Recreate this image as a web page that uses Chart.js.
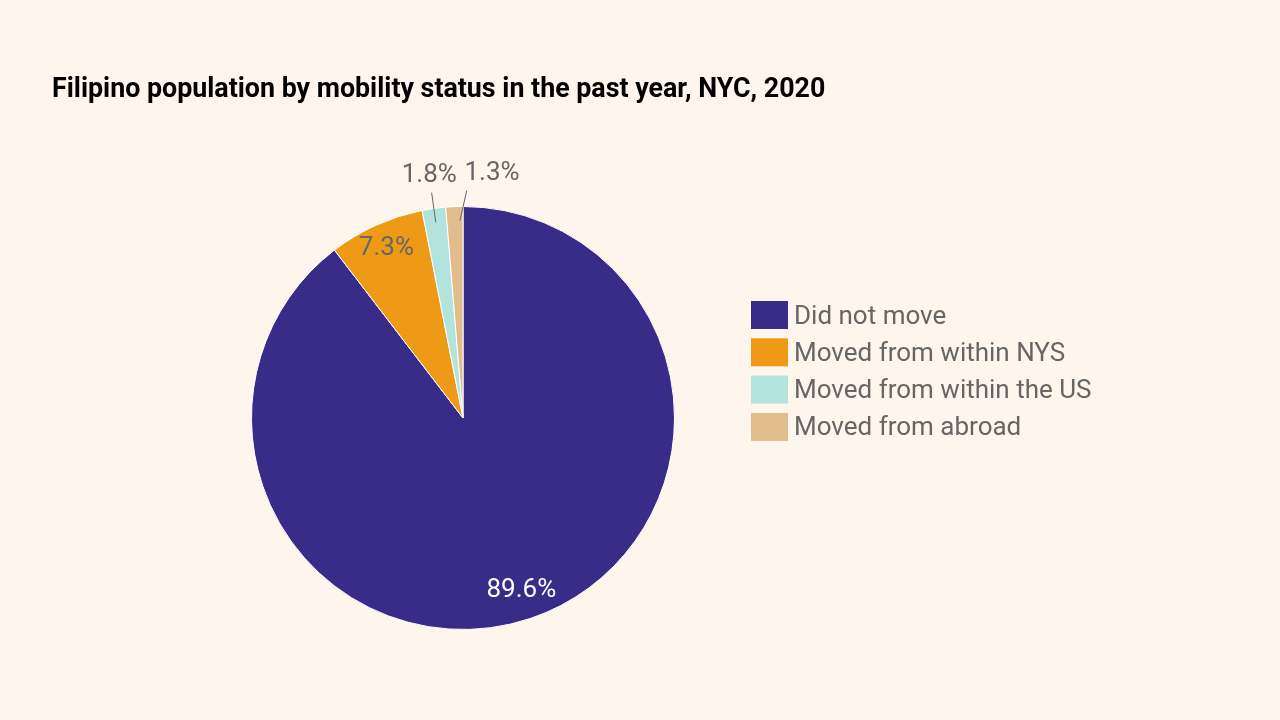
<!DOCTYPE html>
<html>
<head>
<meta charset="utf-8">
<script src="https://cdn.jsdelivr.net/npm/chart.js@4.4.1/dist/chart.umd.min.js"></script>
<style>
  html, body { margin: 0; padding: 0; background: #fef5ec; }
  #wrap { width: 1280px; height: 720px; position: relative; }
</style>
</head>
<body>
<div id="wrap"><canvas id="myChart" width="1280" height="720"></canvas></div>
<script>
// chart data
var categories = ['Did not move', 'Moved from within NYS', 'Moved from within the US', 'Moved from abroad'];
var shares = [89.6, 7.3, 1.8, 1.3];
var sliceColors = ['#382c88', '#ef9a16', '#b2e4de', '#e2bd8c'];
var chartTitle = 'Filipino population by mobility status in the past year, NYC, 2020';

// label styling: inside labels sit at a fraction of the radius, outside ones get a leader line
var labelStyle = [
  { inside: true, r: 0.86, color: '#ffffff' },
  { inside: true, r: 0.88, color: '#666666' },
  { inside: false, lineDx: [0, 0], textDx: 0, color: '#666666' },
  { inside: false, lineDx: [5, 13], textDx: 39, color: '#666666' }
];

// draws title, slice labels and legend
var decorPlugin = {
  id: 'decor',
  afterDraw: function (chart) {
    var ctx = chart.ctx;
    ctx.save();

    // title
    ctx.fillStyle = '#000000';
    ctx.font = 'bold 26.8px Roboto';
    ctx.textAlign = 'left';
    ctx.textBaseline = 'alphabetic';
    ctx.fillText(chartTitle, 52, 97);

    // slice labels
    var meta = chart.getDatasetMeta(0);
    ctx.font = '26px Roboto';
    ctx.textAlign = 'center';
    ctx.textBaseline = 'middle';
    meta.data.forEach(function (arc, i) {
      var st = labelStyle[i];
      var mid = (arc.startAngle + arc.endAngle) / 2;
      var cx = arc.x, cy = arc.y, R = arc.outerRadius;
      var text = shares[i].toFixed(1) + '%';
      ctx.fillStyle = st.color;
      if (st.inside) {
        ctx.fillText(text, cx + Math.cos(mid) * R * st.r, cy + Math.sin(mid) * R * st.r);
      } else {
        var x0 = cx + Math.cos(mid) * (R - 14) + st.lineDx[0];
        var y0 = cy + Math.sin(mid) * (R - 14);
        var x1 = cx + Math.cos(mid) * (R + 16) + st.lineDx[1];
        var y1 = cy + Math.sin(mid) * (R + 16);
        ctx.strokeStyle = '#666666';
        ctx.lineWidth = 1;
        ctx.beginPath();
        ctx.moveTo(x0, y0);
        ctx.lineTo(x1, y1);
        ctx.stroke();
        ctx.fillText(text, cx + Math.cos(mid) * (R + 33) + st.textDx, cy + Math.sin(mid) * (R + 33));
      }
    });

    // legend
    var lx = 751, ly = 301, rowH = 37.3;
    ctx.textAlign = 'left';
    ctx.font = '26px Roboto';
    categories.forEach(function (name, i) {
      var y = ly + i * rowH;
      ctx.fillStyle = sliceColors[i];
      ctx.fillRect(lx, y, 37, 28);
      ctx.fillStyle = '#666666';
      ctx.fillText(name, lx + 43, y + 16);
    });

    ctx.restore();
  }
};

window.onload = function () {
  var canvas = document.getElementById('myChart');
  var ctx = canvas.getContext('2d');
  var myChart = new Chart(ctx, {
    type: 'pie',
    data: {
      labels: categories,
      datasets: [
        {
          data: shares,
          backgroundColor: sliceColors,
          borderColor: '#ffffff',
          borderWidth: 1,
        },
      ],
    },
    options: {
      responsive: false,
      animation: false,
      layout: {
        padding: { top: 206, bottom: 90, left: 251, right: 605 },
      },
      plugins: {
        legend: { display: false },
        title: { display: false },
        tooltip: { enabled: false },
      },
    },
    plugins: [decorPlugin],
  });
};
</script>
</body>
</html>
